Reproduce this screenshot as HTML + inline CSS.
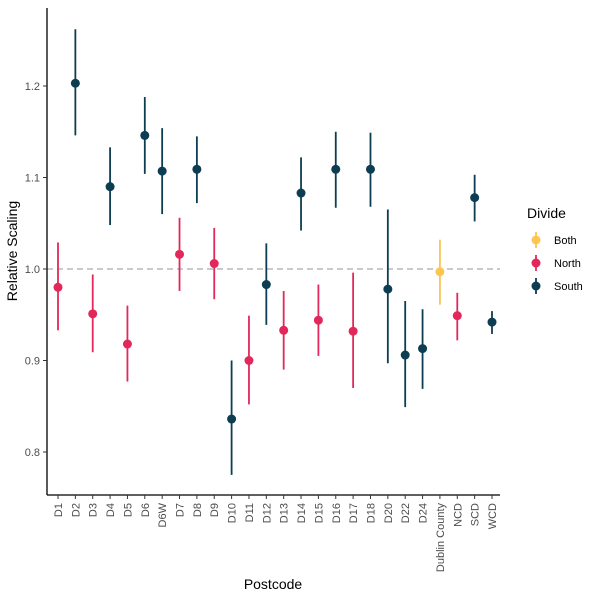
<!DOCTYPE html>
<html><head><meta charset="utf-8"><style>
html,body{margin:0;padding:0;background:#fff;}
svg{display:block;font-family:"Liberation Sans",Arial,sans-serif;}
</style></head><body>
<svg id="chart" width="600" height="601" xmlns="http://www.w3.org/2000/svg"></svg>
<script>
const categories=["D1","D2","D3","D4","D5","D6","D6W","D7","D8","D9","D10","D11","D12","D13","D14","D15","D16","D17","D18","D20","D22","D24","Dublin County","NCD","SCD","WCD"];
const estimates=[0.980,1.203,0.951,1.090,0.918,1.146,1.107,1.016,1.109,1.006,0.836,0.900,0.983,0.933,1.083,0.944,1.109,0.932,1.109,0.978,0.906,0.913,0.997,0.949,1.078,0.942];
const lowers=[0.933,1.146,0.909,1.048,0.877,1.104,1.060,0.976,1.072,0.967,0.775,0.852,0.939,0.890,1.042,0.905,1.067,0.870,1.068,0.897,0.849,0.869,0.961,0.922,1.052,0.929];
const uppers=[1.029,1.262,0.994,1.133,0.960,1.188,1.154,1.056,1.145,1.045,0.900,0.949,1.028,0.976,1.122,0.983,1.150,0.996,1.149,1.065,0.965,0.956,1.032,0.974,1.103,0.954];
const divides=["North","South","North","South","North","South","South","North","South","North","South","North","South","North","South","North","South","North","South","South","South","South","Both","North","South","South"];
const yTicks=[0.8,0.9,1.0,1.1,1.2];
const legendLabels=["Both","North","South"];
const colors={Both:"#fcc64f",North:"#e2285a",South:"#0d3d52"};
const NS="http://www.w3.org/2000/svg";
const svg=document.getElementById('chart');
function y(v){return 269-(v-1)*915;}
function x(i){return 58+i*(492-58)/(categories.length-1);}
function mk(tag,attrs,parent){const e=document.createElementNS(NS,tag);for(const k in attrs)e.setAttribute(k,attrs[k]);(parent||svg).appendChild(e);return e;}
// ref line
let e=mk('line',{x1:47,x2:500,y1:y(1),y2:y(1),stroke:'#aaa','stroke-dasharray':'6,4','stroke-width':1.2});


// axes
e=mk('line',{x1:47,x2:47,y1:8,y2:495,stroke:'#000','stroke-width':1.3});


e=mk('line',{x1:47,x2:500,y1:495,y2:495,stroke:'#000','stroke-width':1.3});


yTicks.forEach(t=>{
  mk('line',{x1:43,x2:47,y1:y(t),y2:y(t),stroke:'#333'});
  const tx=mk('text',{x:40,y:y(t)+4,'text-anchor':'end','font-size':11,fill:'#4d4d4d'});
  tx.textContent=t.toFixed(1);
  
  
});
categories.forEach((c,i)=>{
  mk('line',{x1:x(i),x2:x(i),y1:495,y2:499,stroke:'#333'});
  const tx=mk('text',{x:0,y:0,'text-anchor':'end','font-size':11,fill:'#4d4d4d',transform:`translate(${x(i)+4},503) rotate(-90)`});
  tx.textContent=c;
  
  
  const col=colors[divides[i]];
  const ln=mk('line',{x1:x(i),x2:x(i),y1:y(lowers[i]),y2:y(uppers[i]),stroke:col,'stroke-width':1.8});
  
  
  const pt=mk('circle',{cx:x(i),cy:y(estimates[i]),r:4.5,fill:col});
  
  
});
let t=mk('text',{x:273,y:589,'text-anchor':'middle','font-size':14,fill:'#000'});t.textContent='Postcode';


t=mk('text',{x:0,y:0,'text-anchor':'middle','font-size':14,fill:'#000',transform:'translate(17,251) rotate(-90)'});t.textContent='Relative Scaling';


t=mk('text',{x:527,y:218,'font-size':14,fill:'#000'});t.textContent='Divide';


legendLabels.forEach((l,i)=>{
  const g=mk('g',{});
  
  
  const cy=240+i*23;
  mk('line',{x1:536,x2:536,y1:cy-8,y2:cy+8,stroke:colors[l],'stroke-width':1.8},g);
  mk('circle',{cx:536,cy:cy,r:4.5,fill:colors[l]},g);
  const tt=mk('text',{x:554,y:cy+4,'font-size':11,fill:'#000'},g);tt.textContent=l;
});
</script>
</body></html>
